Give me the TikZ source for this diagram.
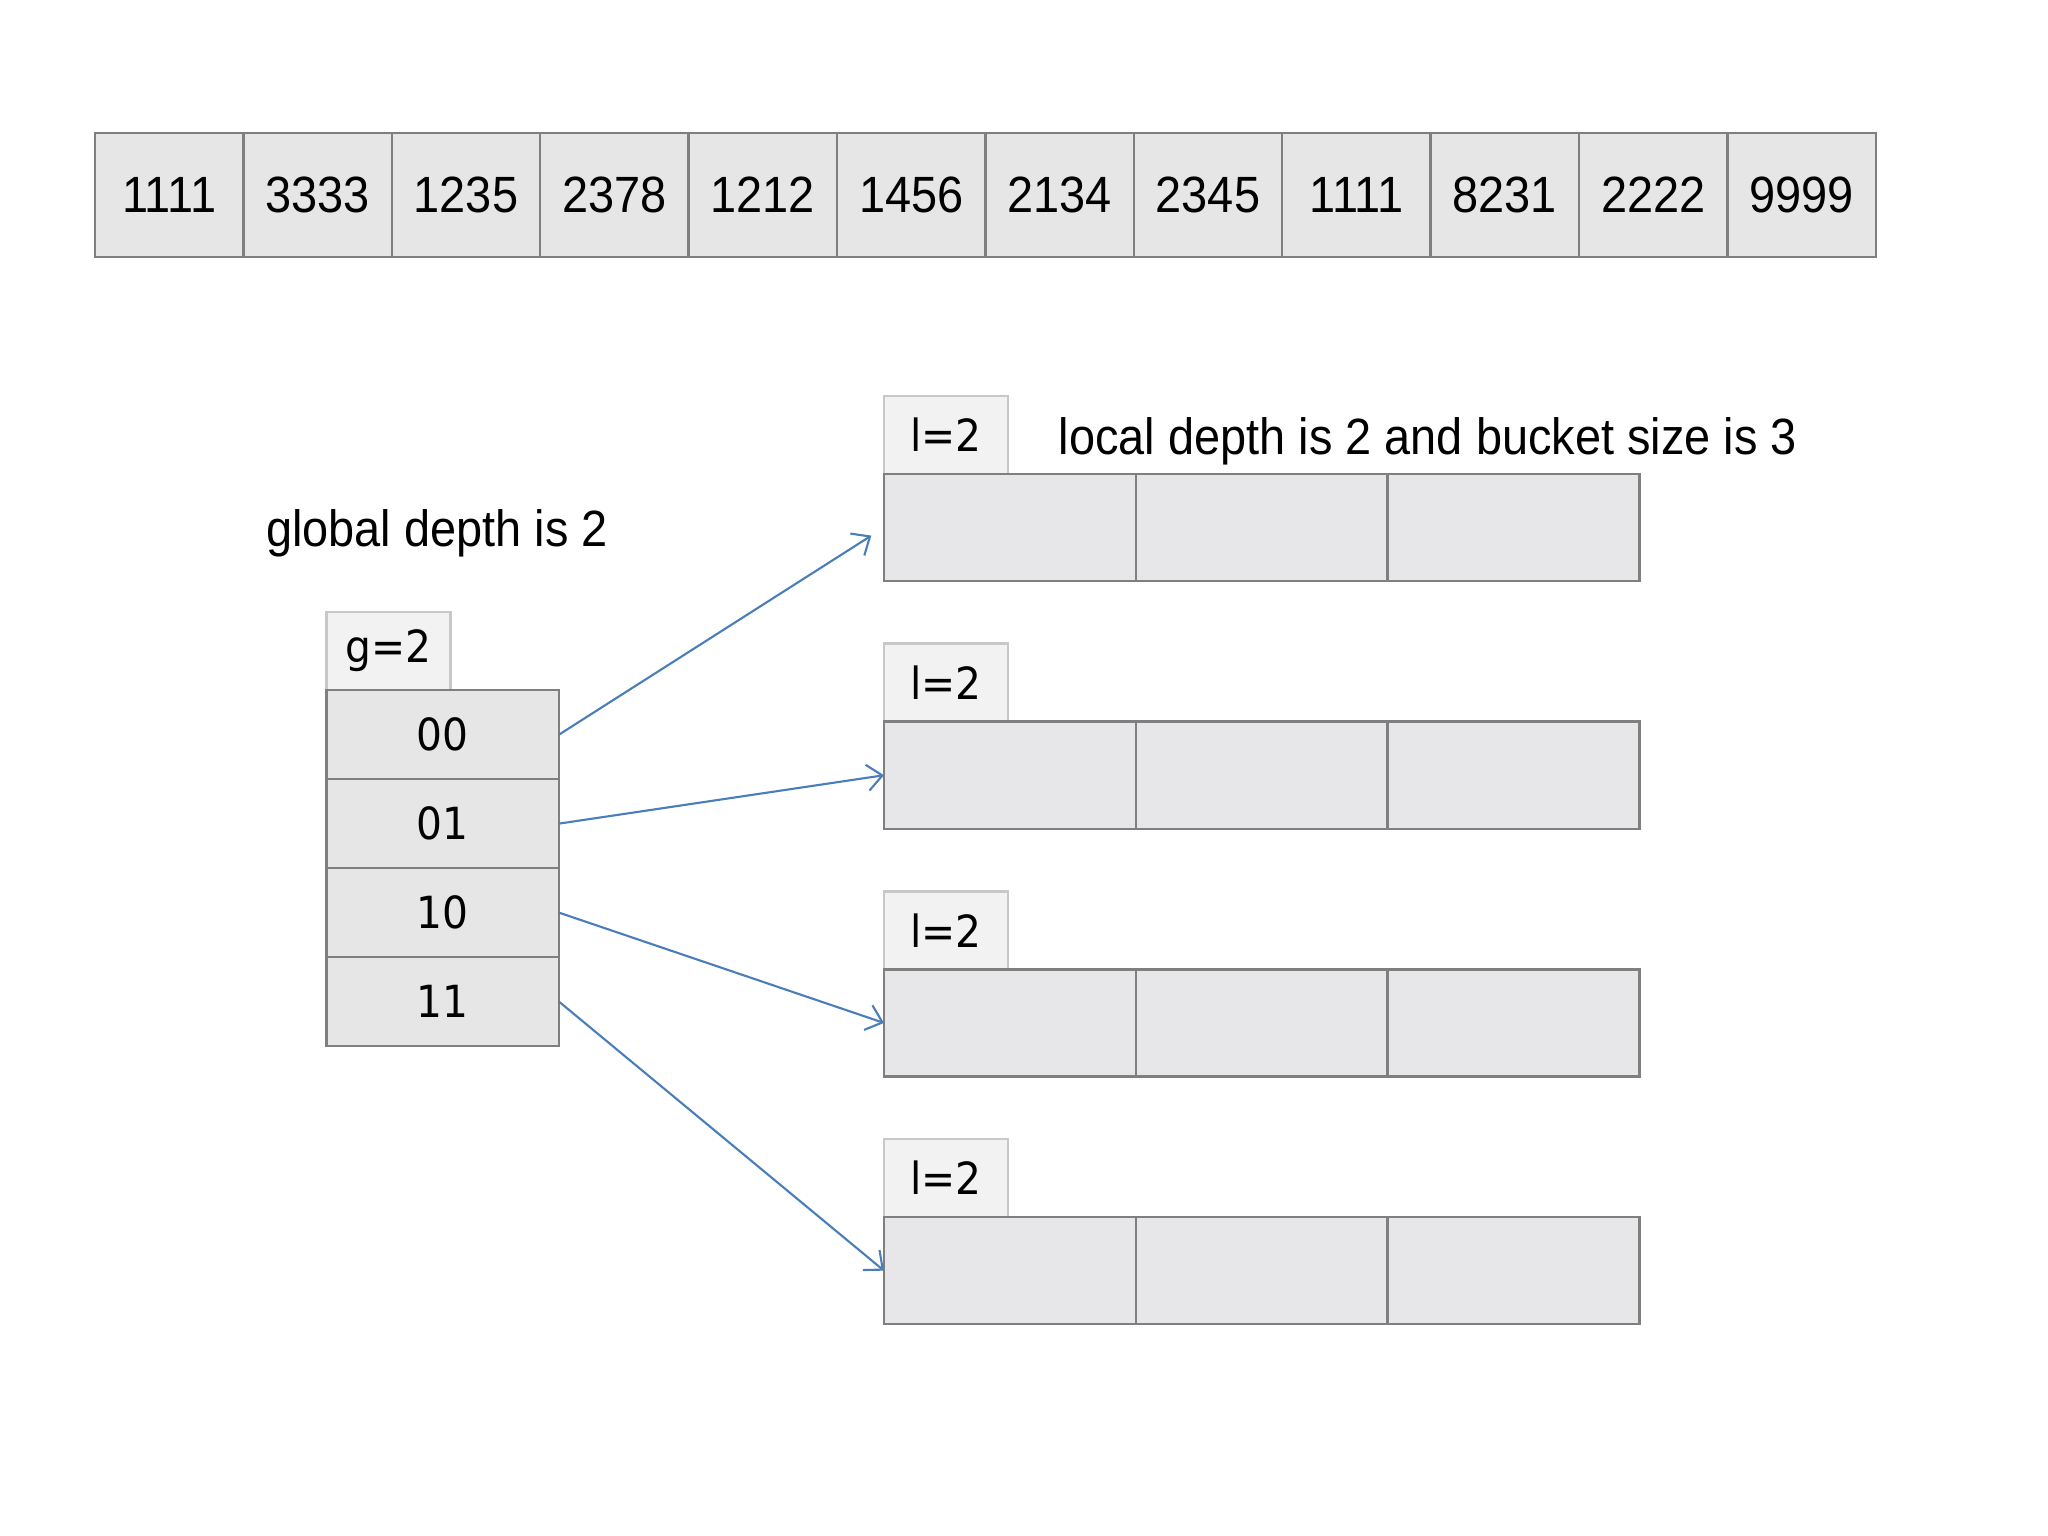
\documentclass[tikz,border=0pt]{standalone}
\usepackage{fontspec}
\setmainfont[FakeStretch=0.92]{Liberation Sans}
\newfontfamily\slotfont[FakeStretch=0.92]{DejaVu Sans}
\usetikzlibrary{arrows.meta}
\usetikzlibrary{positioning}

\definecolor{cellfill}{HTML}{E6E6E6}
\definecolor{cellline}{HTML}{7F7F7F}
\definecolor{tabfill}{HTML}{F2F2F2}
\definecolor{tabline}{HTML}{C8C8C8}
\definecolor{bktfill}{HTML}{E7E6E9}
\definecolor{ptrblue}{HTML}{4A7EBB}

\tikzset{
  keycell/.style={draw=cellline, fill=cellfill, line width=0.7pt, outer sep=0pt, minimum width=1.484cm, minimum height=1.24cm, inner sep=0pt, font=\fontsize{14.5pt}{17pt}\selectfont},
  slot/.style={draw=cellline, fill=cellfill, line width=0.7pt, outer sep=0pt, minimum width=2.325cm, minimum height=0.89cm, inner sep=0pt, font=\slotfont\fontsize{12.6pt}{15pt}\selectfont},
  depthtab/.style={draw=tabline, fill=tabfill, line width=0.7pt, outer sep=0pt, minimum width=1.24cm, minimum height=0.78cm, inner sep=0pt, font=\slotfont\fontsize{12.6pt}{15pt}\selectfont},
  bktcell/.style={draw=cellline, fill=bktfill, line width=0.7pt, outer sep=0pt, minimum width=2.517cm, minimum height=1.07cm, inner sep=0pt},
  note/.style={inner sep=0pt, font=\fontsize{14.5pt}{17pt}\selectfont},
  ptr/.style={draw=ptrblue, line width=0.6pt, -{Straight Barb[length=1.5mm,width=2.6mm]}}
}

\begin{document}
\begin{tikzpicture}[x=0.01cm, y=-0.01cm]
        \useasboundingbox (0,0) rectangle (2048,1536);

        % keys
        \foreach \v [count=\i] in {1111,3333,1235,2378,1212,1456,2134,2345,1111,8231,2222,9999}
            \node [keycell] (k\i) at ({95+148.4*(\i-0.5)},195) {\v};

        % directory
        \node [note] (gnote) at (437,533) {global depth is 2};
        \node [depthtab] (gtab) at (388.5,651) {g=2};
        \node [slot, anchor=north west] (d00) at (gtab.south west) {00};
        \node [slot, below=0pt of d00] (d01) {01};
        \node [slot, below=0pt of d01] (d10) {10};
        \node [slot, below=0pt of d10] (d11) {11};

        % buckets
        \foreach \b in {1,...,4} {
            \node [depthtab, anchor=south west] (t\b) at (884,{474+247.7*(\b-1)}) {l=2};
            \node [bktcell, anchor=north west] (b\b-1) at (t\b.south west) {};
            \node [bktcell, right=0pt of b\b-1] (b\b-2) {};
            \node [bktcell, right=0pt of b\b-2] (b\b-3) {};
        }
        \node [note, right=0.5cm of t1, yshift=-0.06cm] (lnote) {local depth is 2 and bucket size is 3};

        \draw [ptr, shorten >=0.15cm] (d00.east) -- (b1-1.west);
        \draw [ptr] (d01.east) -- (b2-1.west);
        \draw [ptr] (d10.east) -- (b3-1.west);
        \draw [ptr] (d11.east) -- (b4-1.west);
    \end{tikzpicture}
\end{document}
